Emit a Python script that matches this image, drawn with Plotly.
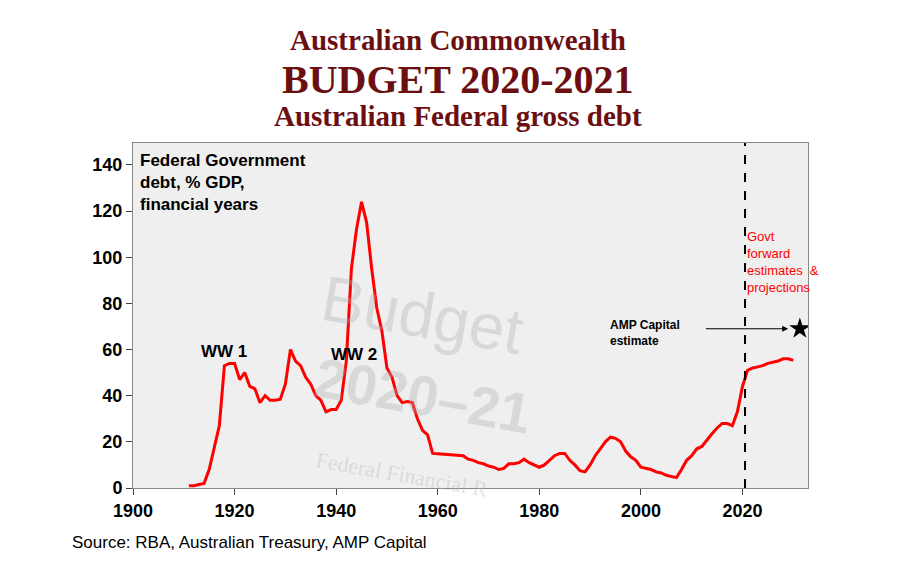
import plotly.graph_objects as go

years = list(range(1911, 2032))
debt = [1,1,1.5,2,8,17,27,53,54,54,47,50,44,43,37,40,38,38,38.5,45,60,55,53,48,45,40,38,33,34,34,38,55,95,112,124,115,95,78,68,52,48,40,37,37.5,37,30,25,23,15,14.8,14.6,14.5,14.3,14,14,12.5,12,11,10.5,9.5,9,8,8.5,10.5,10.5,11,12.5,11,10,9,10,12,14,15,15,12,10,7.5,7,10,14,17,20,22,21.5,20,16,13.5,12,9,8.5,8,7,6.5,5.5,5,4.5,8,12,14,17,18,21,23.5,26,28,28,27,33,44,51,52,52.5,53,54,54.5,55,56,56,55.3]
years = years[:len(debt)]
star_year, star_val = 2031.3, 69
xticks = [1900, 1920, 1940, 1960, 1980, 2000, 2020]
yticks = [0, 20, 40, 60, 80, 100, 120, 140]

L, R, T, B = 125, 800, 135, 480
def px(x, y):
    return (x - L) / (R - L), (B - y) / (B - T)

fig = go.Figure()
fig.add_trace(go.Scatter(x=years, y=debt, mode="lines", line=dict(color="#ff0000", width=3), hoverinfo="skip"))
fig.add_trace(go.Scatter(x=[star_year], y=[star_val], mode="markers", marker=dict(symbol="star", size=16, color="black")))
fig.add_shape(type="line", x0=2020.5, x1=2020.5, y0=0, y1=1, yref="paper", line=dict(color="black", width=2, dash="dash"))

wm = "rgba(175,175,175,0.35)"
fig.add_annotation(x=1957, y=75, text="Budget", font=dict(size=64, color=wm, family="Liberation Sans"), showarrow=False, textangle=10)
fig.add_annotation(x=1957, y=40, text="<b>2020–21</b>", font=dict(size=56, color=wm, family="Liberation Sans"), showarrow=False, textangle=10)
fig.add_annotation(x=1953, y=6, text="Federal Financial R", font=dict(size=22, color=wm, family="Liberation Serif"), showarrow=False, textangle=10)
fig.add_annotation(x=1901, y=147, xanchor="left", yanchor="top", align="left", showarrow=False,
                   text="<b>Federal Government<br>debt, % GDP,<br>financial years</b>", font=dict(size=17, color="black", family="Liberation Sans"))
fig.add_annotation(x=1918, y=59, text="<b>WW 1</b>", showarrow=False, font=dict(size=17, color="black", family="Liberation Sans"))
fig.add_annotation(x=1943.5, y=58, text="<b>WW 2</b>", showarrow=False, font=dict(size=17, color="black", family="Liberation Sans"))
fig.add_annotation(x=1993.5, y=67, text="<b>AMP Capital<br>estimate</b>", align="left", xanchor="left", showarrow=False,
                   font=dict(size=12, color="black", family="Liberation Sans"))
fig.add_annotation(x=2029, y=69, ax=2012.5, ay=69, axref="x", ayref="y", text="", showarrow=True,
                   arrowhead=2, arrowsize=1, arrowwidth=1.2, arrowcolor="black")
fig.add_annotation(x=2020.5, y=113, xanchor="left", yanchor="top", align="left", showarrow=False,
                   text="Govt<br>forward<br>estimates  &<br>projections", font=dict(size=13, color="#ff0000", family="Liberation Sans"))

for txt, ypx, size in [("Australian Commonwealth", 32, 29), ("BUDGET 2020-2021", 72, 40), ("Australian Federal gross debt", 108, 29)]:
    xp, yp = px(450, ypx)
    fig.add_annotation(x=xp, y=yp, xref="paper", yref="paper", showarrow=False, yanchor="middle",
                       text=f"<b>{txt}</b>", font=dict(size=size, color="#6b0f10", family="Liberation Serif"))
xp, yp = px(62, 546)
fig.add_annotation(x=xp, y=yp, xref="paper", yref="paper", xanchor="left", showarrow=False,
                   text="Source: RBA, Australian Treasury, AMP Capital", font=dict(size=17, color="black", family="Liberation Sans"))

tf = dict(size=18, family="Liberation Sans", color="black", weight="bold")
fig.update_layout(
    width=900, height=566, showlegend=False,
    paper_bgcolor="white", plot_bgcolor="#efefef",
    margin=dict(l=L, r=900 - R, t=T, b=566 - B),
    xaxis=dict(range=[1900, 2032.9], tickvals=xticks, ticks="outside", ticklen=6, showgrid=False, zeroline=False,
               showline=True, linecolor="#888", mirror=True, tickfont=tf),
    yaxis=dict(range=[0, 149.5], tickvals=yticks, ticks="outside", ticklen=6, showgrid=False, zeroline=False,
               showline=True, linecolor="#888", mirror=True, tickfont=tf),
)
fig.write_html("out.html")
